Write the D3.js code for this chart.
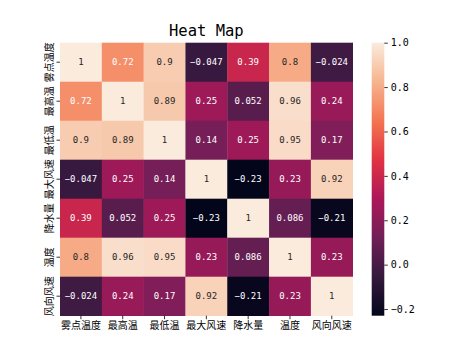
<!DOCTYPE html>
<html><head><meta charset="utf-8">
<script src="https://cdn.jsdelivr.net/npm/d3@7"></script>
<style>html,body{margin:0;padding:0;background:#fff;}</style>
</head><body>
<script>
const labels = ["雾点温度","最高温","最低温","最大风速","降水量","温度","风向风速"];
const row0 = [1, 0.72, 0.9, -0.047, 0.39, 0.8, -0.024];
const row1 = [0.72, 1, 0.89, 0.25, 0.052, 0.96, 0.24];
const row2 = [0.9, 0.89, 1, 0.14, 0.25, 0.95, 0.17];
const row3 = [-0.047, 0.25, 0.14, 1, -0.23, 0.23, 0.92];
const row4 = [0.39, 0.052, 0.25, -0.23, 1, 0.086, -0.21];
const row5 = [0.8, 0.96, 0.95, 0.23, 0.086, 1, 0.23];
const row6 = [-0.024, 0.24, 0.17, 0.92, -0.21, 0.23, 1];
const values = [row0,row1,row2,row3,row4,row5,row6];
const cbTicks = [-0.2, 0.0, 0.2, 0.4, 0.6, 0.8, 1.0];
const title = "Heat Map";
const rocketStops = ["#03051a","#35193e","#701f57","#ad1759","#e13342","#f37651","#f6b48f","#faebdd"];

const W = 474, H = 355;
const svg = d3.select("body").append("svg").attr("width", W).attr("height", H);

const L = 60, R = 352.7, T = 42.7, B = 315.7;
const vmin = d3.min(values.flat()), vmax = d3.max(values.flat());

const x = d3.scaleBand().domain(labels).range([L, R]).padding(0);
const y = d3.scaleBand().domain(labels).range([T, B]).padding(0);
const interp = d3.interpolateRgbBasis ? d3.piecewise(d3.interpolateRgb, rocketStops) : null;
const color = d3.scaleSequential(interp).domain([vmin, vmax]);

function lum(c) {
  const rgb = d3.rgb(c);
  const f = v => { v /= 255; return v <= 0.03928 ? v / 12.92 : Math.pow((v + 0.055) / 1.055, 2.4); };
  return 0.2126 * f(rgb.r) + 0.7152 * f(rgb.g) + 0.0722 * f(rgb.b);
}

const cells = [];
values.forEach((row, i) => row.forEach((v, j) => cells.push({r: labels[i], c: labels[j], v})));

svg.append("g").selectAll("rect").data(cells).join("rect")
  .attr("x", d => x(d.c)).attr("y", d => y(d.r))
  .attr("width", x.bandwidth() + 0.3).attr("height", y.bandwidth() + 0.3)
  .attr("fill", d => color(d.v));

svg.append("g").selectAll("text").data(cells).join("text")
  .attr("x", d => x(d.c) + x.bandwidth() / 2)
  .attr("y", d => y(d.r) + y.bandwidth() / 2)
  .attr("text-anchor", "middle").attr("dominant-baseline", "central")
  .attr("font-family", "DejaVu Sans Mono, monospace").attr("font-size", 9)
  .attr("fill", d => lum(color(d.v)) > 0.408 ? "#262626" : "#ffffff")
  .text(d => String(d.v).replace(/^-/, "\u2212"));

// x axis
const xAxis = svg.append("g").attr("transform", `translate(0,${B})`)
  .call(d3.axisBottom(x).tickSize(3.5).tickPadding(3));
xAxis.select(".domain").remove();
xAxis.selectAll("text").attr("font-family", "Noto Sans CJK SC").attr("font-size", 10).attr("fill", "#000");
xAxis.selectAll("line").attr("stroke", "#000").attr("stroke-width", 0.8);

// y axis
const yAxis = svg.append("g").attr("transform", `translate(${L},0)`)
  .call(d3.axisLeft(y).tickSize(3.5).tickPadding(3));
yAxis.select(".domain").remove();
yAxis.selectAll("text")
  .attr("font-family", "Noto Sans CJK SC").attr("font-size", 10).attr("fill", "#000")
  .attr("text-anchor", "middle").attr("dy", null).attr("x", null)
  .attr("transform", "translate(-12,0) rotate(-90)")
  .attr("dominant-baseline", "central");
yAxis.selectAll("line").attr("stroke", "#000").attr("stroke-width", 0.8);

// colorbar
const cbL = 371.7, cbW = 12.6;
const cy = d3.scaleLinear().domain([vmin, vmax]).range([B, T]);
const defs = svg.append("defs");
const grad = defs.append("linearGradient").attr("id", "cb").attr("x1", 0).attr("y1", 1).attr("x2", 0).attr("y2", 0);
d3.range(0, 1.0001, 0.02).forEach(t => {
  grad.append("stop").attr("offset", t).attr("stop-color", interp(t));
});
svg.append("rect").attr("x", cbL).attr("y", T).attr("width", cbW).attr("height", B - T).attr("fill", "url(#cb)");
const cAxis = svg.append("g").attr("transform", `translate(${cbL + cbW},0)`)
  .call(d3.axisRight(cy).tickValues(cbTicks).tickSize(3.5).tickPadding(3)
    .tickFormat(d => d3.format(".1f")(d).replace("-", "\u2212")));
cAxis.select(".domain").remove();
cAxis.selectAll("text").attr("font-family", "DejaVu Sans Mono, monospace").attr("font-size", 10).attr("fill", "#000");
cAxis.selectAll("line").attr("stroke", "#000").attr("stroke-width", 0.8);

// title
svg.append("text").attr("x", (L + R) / 2).attr("y", 36)
  .attr("text-anchor", "middle")
  .attr("font-family", "DejaVu Sans Mono, monospace").attr("font-size", 15.5)
  .attr("fill", "#000").text(title);
</script>
</body></html>
